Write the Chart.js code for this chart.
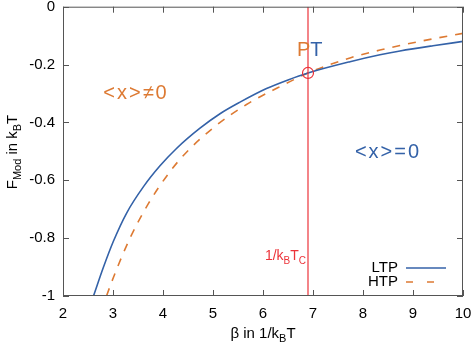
<!DOCTYPE html>
<html>
<head>
<meta charset="utf-8">
<script src="https://cdn.jsdelivr.net/npm/chart.js@4.4.1/dist/chart.umd.min.js"></script>
<style>
html,body{margin:0;padding:0;background:#fff;}
#wrap{width:474px;height:345px;position:relative;}
</style>
</head>
<body>
<div id="wrap"><canvas id="c" width="474" height="345"></canvas></div>
<script>
// ---- data ----
const betaLTP = [2.61, 2.81, 3.01, 3.27, 3.61, 3.94, 4.27, 4.74, 5.14, 5.54, 6.07, 6.5, 6.9, 7.74, 8.34, 8.74, 9.4, 10];
const fLTP    = [-1, -0.900, -0.810, -0.714, -0.622, -0.550, -0.490, -0.420, -0.370, -0.330, -0.283, -0.253, -0.229, -0.190, -0.166, -0.153, -0.135, -0.120];
const betaHTP = [2.87, 3.01, 3.34, 3.71, 4.14, 4.47, 5.01, 5.67, 6.47, 6.9, 7.74, 8.34, 8.74, 9.4, 10];
const fHTP    = [-1, -0.935, -0.800, -0.680, -0.570, -0.503, -0.418, -0.338, -0.265, -0.229, -0.177, -0.150, -0.134, -0.111, -0.092];
const betaC = 6.9;
const fC = -0.229;
const xTicks = [2, 3, 4, 5, 6, 7, 8, 9, 10];
const yTicks = [0, -0.2, -0.4, -0.6, -0.8, -1];
const seriesNames = ['LTP', 'HTP'];

const BLUE = '#3462a8';
const ORANGE = '#dd7a33';
const RED = '#ec3339';
const FONT = '"Liberation Sans", Arial, sans-serif';

function pts(xs, ys){ return xs.map((x,i)=>({x:x, y:ys[i]})); }

// draw text with subscripts: parts = [[text, isSub], ...]
function drawRich(ctx, parts, x, y, size, align){
  const subSize = Math.round(size*0.72);
  let w = 0;
  parts.forEach(p=>{ ctx.font = (p[1]?subSize:size)+'px '+FONT; w += ctx.measureText(p[0]).width; });
  let cx = align==='center' ? x - w/2 : (align==='right' ? x - w : x);
  ctx.textAlign = 'left';
  ctx.textBaseline = 'alphabetic';
  parts.forEach(p=>{
    ctx.font = (p[1]?subSize:size)+'px '+FONT;
    ctx.fillText(p[0], cx, y + (p[1]? size*0.28 : 0));
    cx += ctx.measureText(p[0]).width;
  });
}

const decor = {
  id:'decor',
  afterDraw(chart){
    const ctx = chart.ctx, a = chart.chartArea;
    const xs = chart.scales.x, ys = chart.scales.y;
    ctx.save();
    // box
    ctx.strokeStyle = '#555'; ctx.lineWidth = 1;
    ctx.strokeRect(a.left+0.5, a.top+0.5, a.right-a.left-1, a.bottom-a.top-1);
    // inward ticks
    const tl = 6;
    ctx.beginPath();
    xTicks.forEach(v=>{
      const px = Math.round(xs.getPixelForValue(v))+0.5;
      ctx.moveTo(px, a.bottom); ctx.lineTo(px, a.bottom-tl);
      ctx.moveTo(px, a.top); ctx.lineTo(px, a.top+tl);
    });
    yTicks.forEach(v=>{
      const py = Math.round(ys.getPixelForValue(v))+0.5;
      ctx.moveTo(a.left, py); ctx.lineTo(a.left+tl, py);
      ctx.moveTo(a.right, py); ctx.lineTo(a.right-tl, py);
    });
    ctx.stroke();

    // region labels
    ctx.fillStyle = ORANGE;
    ctx.font = '20px '+FONT; ctx.textAlign='center'; ctx.textBaseline='middle';
    ctx.letterSpacing = '2px';
    ctx.fillText('<x>\u22600', xs.getPixelForValue(3.46), ys.getPixelForValue(-0.299));
    ctx.fillStyle = BLUE;
    ctx.fillText('<x>=0', xs.getPixelForValue(8.5), ys.getPixelForValue(-0.505));
    ctx.letterSpacing = '0px';
    // PT
    ctx.font = '20px '+FONT;
    ctx.textAlign='left';
    const pX = xs.getPixelForValue(6.68), pY = ys.getPixelForValue(-0.151);
    ctx.fillStyle = ORANGE; ctx.fillText('P', pX, pY);
    const pw = ctx.measureText('P').width;
    ctx.fillStyle = BLUE; ctx.fillText('T', pX+pw, pY);
    // 1/kBTC
    ctx.fillStyle = RED;
    drawRich(ctx, [['1/k',false],['B',true],['T',false],['C',true]], xs.getPixelForValue(betaC)-2, 260, 14, 'right');

    // legend
    ctx.fillStyle = '#000';
    ctx.font = '15px '+FONT; ctx.textAlign='right'; ctx.textBaseline='middle';
    ctx.fillText(seriesNames[0], 398, 268);
    ctx.fillText(seriesNames[1], 398, 282);
    ctx.lineWidth = 1.6;
    ctx.strokeStyle = BLUE; ctx.setLineDash([]);
    ctx.beginPath(); ctx.moveTo(406, 268); ctx.lineTo(446, 268); ctx.stroke();
    ctx.strokeStyle = ORANGE; ctx.setLineDash([7,14]);
    ctx.beginPath(); ctx.moveTo(406, 282); ctx.lineTo(446, 282); ctx.stroke();
    ctx.setLineDash([]);

    // axis titles
    ctx.fillStyle = '#000';
    drawRich(ctx, [['\u03b2 in 1/k',false],['B',true],['T',false]], (a.left+a.right)/2, 338, 15, 'center');
    ctx.save();
    ctx.translate(17, 152);
    ctx.rotate(-Math.PI/2);
    drawRich(ctx, [['F',false],['Mod',true],[' in k',false],['B',true],['T',false]], 0, 0, 15, 'center');
    ctx.restore();
    ctx.restore();
  }
};

new Chart(document.getElementById('c'), {
  type:'scatter',
  data:{
    datasets:[
      {label:'LTP', data:pts(betaLTP,fLTP), showLine:true, borderColor:BLUE, borderWidth:1.6, pointRadius:0, cubicInterpolationMode:'monotone', order:2},
      {label:'HTP', data:pts(betaHTP,fHTP), showLine:true, borderColor:ORANGE, borderWidth:1.6, borderDash:[8,8], pointRadius:0, cubicInterpolationMode:'monotone', order:3},
      {label:'Tc', data:[{x:betaC,y:0},{x:betaC,y:-1}], showLine:true, borderColor:RED, borderWidth:1.2, pointRadius:0, order:1},
      {label:'PT', data:[{x:betaC,y:fC}], showLine:false, pointRadius:5.5, pointBorderColor:RED, pointBackgroundColor:'rgba(0,0,0,0)', pointBorderWidth:1.2, order:0}
    ]
  },
  options:{
    responsive:false, animation:false,
    layout:{padding:{left:0, right:11, top:5, bottom:0}},
    plugins:{legend:{display:false}, tooltip:{enabled:false}},
    scales:{
      x:{type:'linear', min:2, max:10,
         afterBuildTicks(s){ s.ticks = xTicks.map(v=>({value:v})); },
         afterFit(s){ s.height = 49; s.paddingLeft = 0; s.paddingRight = 0; },
         grid:{display:false, drawTicks:false}, border:{display:false},
         ticks:{color:'#000', font:{family:FONT, size:15}, padding:9, maxRotation:0,
                callback:(v)=>String(v)}},
      y:{type:'linear', min:-1, max:0,
         afterBuildTicks(s){ s.ticks = yTicks.map(v=>({value:v})); },
         afterFit(s){ s.width = 63; s.paddingTop = 0; s.paddingBottom = 0; },
         grid:{display:false, drawTicks:false}, border:{display:false},
         ticks:{color:'#000', font:{family:FONT, size:15}, padding:8,
                callback:(v)=> (Math.abs(v)<1e-9 ? '0' : String(Math.round(v*10)/10))}}
    }
  },
  plugins:[decor]
});
</script>
</body>
</html>
